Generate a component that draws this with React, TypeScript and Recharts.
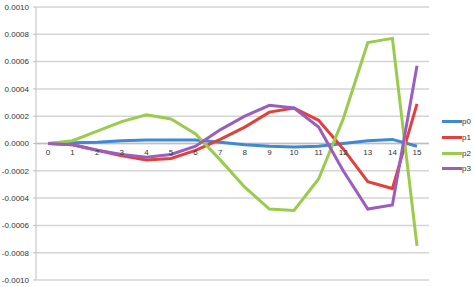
import React from 'react';
import { LineChart, Line, XAxis, YAxis, CartesianGrid, ReferenceLine, ReferenceDot } from 'recharts';

const CATEGORIES = ['0', '1', '2', '3', '4', '5', '6', '7', '8', '9', '10', '11', '12', '13', '14', '15'];
const P0 = [0, 0.000005, 0.00001, 0.00002, 0.000025, 0.000025, 0.000025, 0.00001, -0.00001, -0.00002, -0.000025, -0.00002, 0, 0.00002, 0.00003, -0.00002];
const P1 = [0, -0.00001, -0.00005, -0.00009, -0.00012, -0.00011, -0.00005, 0.00003, 0.00012, 0.00023, 0.00026, 0.00017, -0.00004, -0.00028, -0.00033, 0.00029];
const P2 = [0, 0.00002, 0.00009, 0.00016, 0.00021, 0.00018, 0.00007, -0.00012, -0.00032, -0.00048, -0.00049, -0.00026, 0.00018, 0.00074, 0.00077, -0.00075];
const P3 = [0, -0.00001, -0.00005, -0.00008, -0.0001, -0.00008, -0.00002, 0.0001, 0.0002, 0.00028, 0.00026, 0.00012, -0.0002, -0.00048, -0.00045, 0.00057];
const Y_TICKS = [-0.001, -0.0008, -0.0006, -0.0004, -0.0002, 0, 0.0002, 0.0004, 0.0006, 0.0008, 0.001];

const SERIES = [
    { key: 'p0', color: '#3f88d4' },
    { key: 'p1', color: '#e2413b' },
    { key: 'p2', color: '#9bcb4c' },
    { key: 'p3', color: '#9a5ebd' },
];

const data = CATEGORIES.map((c, i) => ({ cat: c, p0: P0[i], p1: P1[i], p2: P2[i], p3: P3[i] }));

const FONT = 'Liberation Sans, Arial, sans-serif';

const App: React.FC = () => (
    <div style={{ position: 'absolute', left: 0, top: 0, width: 474, height: 287, background: '#fff' }}>
        <LineChart width={474} height={287} data={data} margin={{ top: 7, right: 45, left: 0, bottom: 7 }}>
            <CartesianGrid vertical={false} stroke="#d4d4d4" strokeWidth={1.5} />
            <XAxis dataKey="cat" hide padding={{ left: 12, right: 12 }} />
            <YAxis
                domain={[-0.001, 0.001]}
                ticks={Y_TICKS}
                width={36}
                tickFormatter={(v: number) => v.toFixed(4)}
                tick={{ fontSize: 8, fill: '#333', fontFamily: FONT }}
                tickSize={3}
                tickMargin={4}
                axisLine={{ stroke: '#bfbfbf' }}
                tickLine={{ stroke: '#bfbfbf' }}
            />
            <ReferenceLine y={0} stroke="#bfbfbf" strokeWidth={1.5} />
            {CATEGORIES.map(c => (
                <ReferenceDot
                    key={c}
                    x={c}
                    y={0}
                    r={0}
                    stroke="none"
                    label={{ value: c, position: 'bottom', offset: 6, fontSize: 8, fill: '#333', fontFamily: FONT }}
                />
            ))}
            {SERIES.map(s => (
                <Line
                    key={s.key}
                    dataKey={s.key}
                    type="linear"
                    stroke={s.color}
                    strokeWidth={3}
                    dot={false}
                    isAnimationActive={false}
                />
            ))}
        </LineChart>
        <div style={{ position: 'absolute', left: 442, top: 114, fontFamily: FONT, fontSize: 8, color: '#333' }}>
            {SERIES.map(s => (
                <div key={s.key} style={{ display: 'flex', alignItems: 'center', height: 15.7 }}>
                    <span style={{ display: 'inline-block', width: 20, height: 3, background: s.color }} />
                    <span>{s.key}</span>
                </div>
            ))}
        </div>
    </div>
);

export default App;
